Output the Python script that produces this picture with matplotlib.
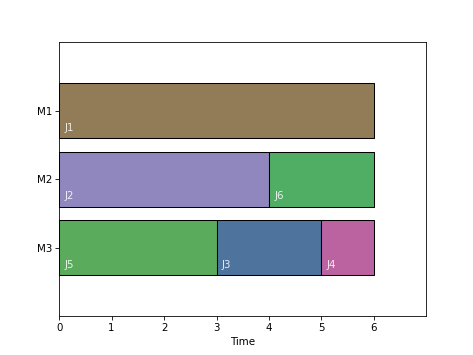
import matplotlib
matplotlib.use("Agg")
import matplotlib.pyplot as plt

machines = ["M1", "M2", "M3"]
jobs = ["J1", "J2", "J6", "J5", "J3", "J4"]
job_machine = ["M1", "M2", "M2", "M3", "M3", "M3"]
starts = [0, 0, 4, 0, 3, 5]
durations = [6, 4, 2, 3, 2, 1]
colors = ["#927c57", "#8f87bd", "#4fae63", "#5aab5b", "#4e739c", "#bb62a0"]

fig, ax = plt.subplots(figsize=(6.4, 4.8), dpi=74)

ypos = {m: len(machines) - i for i, m in enumerate(machines)}

for j, m, s, d, c in zip(jobs, job_machine, starts, durations, colors):
    y = ypos[m]
    ax.barh(y, d, left=s, height=0.8, color=c, edgecolor="black", linewidth=1)
    ax.text(s + 0.1, y - 0.25, j, color="white", fontsize=10, va="center", alpha=0.85)

ax.set_yticks([ypos[m] for m in machines])
ax.set_yticklabels(machines)
ax.set_ylim(0, 4)
ax.set_xlim(0, 7)
ax.set_xticks(range(7))
ax.set_xlabel("Time")

plt.savefig("out.png", dpi=74)
